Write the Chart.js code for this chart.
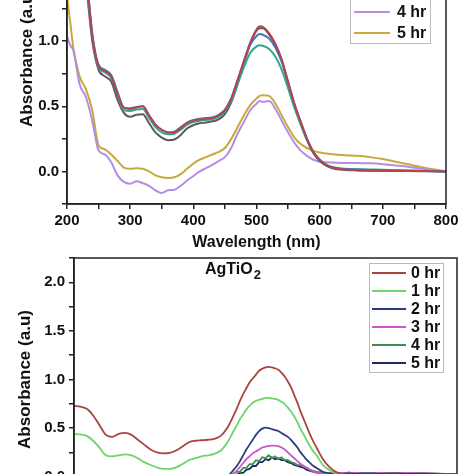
<!DOCTYPE html>
<html>
<head>
<meta charset="utf-8">
<script src="https://cdn.jsdelivr.net/npm/chart.js@4.4.1/dist/chart.umd.min.js"></script>
<style>
  html, body { margin: 0; padding: 0; background: #fff; width: 474px; height: 474px; overflow: hidden; }
  #wrap-top { position: absolute; left: 0; top: -101px; width: 474px; height: 355px; }
  #wrap-bot { position: absolute; left: 0; top: 245px; width: 474px; height: 306px; }
</style>
</head>
<body>
<div id="wrap-top"><canvas id="chart-top" width="474" height="355"></canvas></div>
<div id="wrap-bot"><canvas id="chart-bot" width="474" height="306"></canvas></div>
<script>
// ==========================================
// データ
// ==========================================

const SERIES_LABELS = ['0 hr', '1 hr', '2 hr', '3 hr', '4 hr', '5 hr'];

// 上のグラフ (波長 nm)
const TOP_WL = [
  200, 205, 210, 220, 230, 240, 250, 260, 270, 280,
  290, 300, 310, 320, 330, 340, 350, 360, 370, 380,
  390, 400, 410, 420, 430, 440, 450, 460, 470, 480,
  490, 500, 505, 510, 520, 530, 540, 550, 560, 570,
  580, 590, 600, 610, 620, 640, 660, 680, 700, 720,
  740, 760, 780, 800
];
const TOP_0HR = [
  2.6, 2.4, 2.2, 1.9, 1.55, 1.05, 0.81, 0.77, 0.73, 0.60,
  0.49, 0.48, 0.49, 0.50, 0.43, 0.36, 0.32, 0.30, 0.30, 0.33,
  0.37, 0.39, 0.40, 0.405, 0.41, 0.43, 0.47, 0.56, 0.70, 0.85,
  0.99, 1.09, 1.115, 1.11, 1.06, 0.98, 0.86, 0.69, 0.52, 0.38,
  0.25, 0.15, 0.09, 0.05, 0.03, 0.015, 0.01, 0.008, 0.006, 0.005,
  0.004, 0.003, 0.002, 0.0
];
const TOP_1HR = [
  2.6, 2.4, 2.2, 1.9, 1.55, 1.06, 0.82, 0.78, 0.74, 0.61,
  0.49, 0.485, 0.495, 0.50, 0.43, 0.36, 0.32, 0.30, 0.305, 0.34,
  0.375, 0.395, 0.405, 0.41, 0.415, 0.435, 0.475, 0.56, 0.70, 0.84,
  0.97, 1.04, 1.055, 1.05, 1.02, 0.95, 0.84, 0.68, 0.52, 0.38,
  0.25, 0.15, 0.09, 0.05, 0.03, 0.018, 0.014, 0.012, 0.01, 0.008,
  0.006, 0.004, 0.002, 0.0
];
const TOP_2HR = [
  2.5, 2.35, 2.15, 1.85, 1.5, 1.03, 0.80, 0.76, 0.72, 0.59,
  0.47, 0.465, 0.475, 0.48, 0.41, 0.34, 0.30, 0.285, 0.29, 0.32,
  0.36, 0.38, 0.39, 0.395, 0.40, 0.42, 0.46, 0.54, 0.67, 0.80,
  0.91, 0.96, 0.97, 0.965, 0.94, 0.88, 0.78, 0.64, 0.49, 0.36,
  0.24, 0.15, 0.09, 0.055, 0.035, 0.02, 0.017, 0.015, 0.013, 0.01,
  0.008, 0.005, 0.003, 0.0
];
const TOP_3HR = [
  2.5, 2.3, 2.1, 1.8, 1.45, 1.0, 0.78, 0.73, 0.69, 0.55,
  0.45, 0.42, 0.435, 0.44, 0.37, 0.30, 0.26, 0.24, 0.245, 0.28,
  0.33, 0.355, 0.37, 0.375, 0.385, 0.40, 0.44, 0.53, 0.67, 0.83,
  0.98, 1.08, 1.10, 1.10, 1.05, 0.97, 0.85, 0.68, 0.51, 0.37,
  0.24, 0.14, 0.08, 0.045, 0.025, 0.012, 0.008, 0.006, 0.005, 0.004,
  0.003, 0.002, 0.001, 0.0
];
const TOP_4HR = [
  1.04, 0.97, 0.93, 0.67, 0.57, 0.39, 0.16, 0.13, 0.07, -0.03,
  -0.08, -0.095, -0.075, -0.09, -0.11, -0.145, -0.165, -0.145, -0.14, -0.11,
  -0.07, -0.035, 0.0, 0.025, 0.05, 0.08, 0.11, 0.18, 0.29, 0.38,
  0.47, 0.52, 0.54, 0.535, 0.54, 0.48, 0.39, 0.30, 0.22, 0.16,
  0.12, 0.09, 0.075, 0.07, 0.068, 0.065, 0.064, 0.062, 0.056, 0.046,
  0.036, 0.022, 0.01, 0.0
];
const TOP_5HR = [
  1.35, 1.15, 0.95, 0.73, 0.63, 0.47, 0.20, 0.17, 0.13, 0.08,
  0.03, 0.02, 0.025, 0.02, 0.0, -0.03, -0.045, -0.05, -0.045, -0.02,
  0.02, 0.06, 0.09, 0.11, 0.13, 0.15, 0.18, 0.25, 0.34, 0.43,
  0.51, 0.56, 0.58, 0.585, 0.58, 0.52, 0.43, 0.34, 0.26, 0.21,
  0.18, 0.16, 0.145, 0.138, 0.132, 0.125, 0.12, 0.11, 0.095, 0.075,
  0.055, 0.035, 0.017, 0.0
];

// 下のグラフ AgTiO2
const BOT_WL = [
  200, 210, 220, 230, 240, 250, 260, 270, 280, 290,
  300, 310, 320, 330, 340, 350, 360, 370, 380, 390,
  400, 410, 420, 430, 440, 450, 455, 460, 465, 470,
  475, 480, 485, 490, 495, 500, 505, 510, 515, 520,
  525, 530, 535, 540, 545, 550, 555, 560, 565, 570,
  575, 580, 590, 600, 610, 620, 630, 640, 660, 680,
  700, 720, 740, 760, 780, 800
];
const BOT_0HR = [
  0.73, 0.72, 0.70, 0.63, 0.53, 0.43, 0.41, 0.44, 0.45, 0.43,
  0.38, 0.33, 0.28, 0.25, 0.24, 0.245, 0.27, 0.31, 0.355, 0.37,
  0.375, 0.38, 0.39, 0.42, 0.50, 0.63, 0.70, 0.78, 0.85, 0.91,
  0.97, 1.01, 1.05, 1.09, 1.11, 1.125, 1.13, 1.125, 1.115, 1.10,
  1.07, 1.03, 0.98, 0.92, 0.84, 0.76, 0.67, 0.59, 0.51, 0.43,
  0.36, 0.30, 0.18, 0.10, 0.05, 0.03, 0.015, 0.01, 0.0, 0.0,
  0.0, 0.0, 0.0, 0.0, 0.0, 0.0
];
const BOT_1HR = [
  0.44, 0.435, 0.42, 0.37, 0.30, 0.22, 0.21, 0.22, 0.23, 0.22,
  0.19, 0.15, 0.12, 0.095, 0.08, 0.08, 0.095, 0.13, 0.17, 0.19,
  0.21, 0.22, 0.235, 0.27, 0.35, 0.47, 0.53, 0.59, 0.64, 0.69,
  0.73, 0.76, 0.78, 0.79, 0.80, 0.81, 0.81, 0.805, 0.80, 0.79,
  0.77, 0.75, 0.71, 0.67, 0.62, 0.56, 0.49, 0.43, 0.37, 0.31,
  0.26, 0.22, 0.12, 0.07, 0.035, 0.015, 0.005, 0.0, 0.0, 0.0,
  0.0, 0.0, 0.0, 0.0, 0.0, 0.0
];
const BOT_2HR = [
  -0.12, -0.12, -0.13, -0.15, -0.18, -0.2, -0.2, -0.19, -0.19, -0.2,
  -0.21, -0.22, -0.23, -0.24, -0.24, -0.24, -0.23, -0.21, -0.19, -0.16,
  -0.13, -0.1, -0.07, -0.03, 0.0, 0.07, 0.11, 0.16, 0.22, 0.28,
  0.33, 0.38, 0.43, 0.47, 0.495, 0.505, 0.50, 0.49, 0.48, 0.47,
  0.45, 0.43, 0.41, 0.38, 0.34, 0.30, 0.25, 0.21, 0.17, 0.14,
  0.11, 0.09, 0.05, 0.035, 0.03, 0.03, 0.032, 0.03, 0.032, 0.03,
  0.031, 0.03, 0.03, 0.028, 0.027, 0.025
];
const BOT_3HR = [
  -0.2, -0.2, -0.21, -0.22, -0.23, -0.24, -0.24, -0.24, -0.24, -0.24,
  -0.24, -0.24, -0.24, -0.24, -0.24, -0.24, -0.24, -0.23, -0.22, -0.2,
  -0.17, -0.14, -0.1, -0.06, -0.02, 0.03, 0.06, 0.10, 0.14, 0.18,
  0.21, 0.24, 0.26, 0.28, 0.30, 0.31, 0.315, 0.32, 0.32, 0.315,
  0.30, 0.28, 0.25, 0.22, 0.19, 0.16, 0.13, 0.11, 0.09, 0.07,
  0.05, 0.04, 0.035, 0.04, 0.035, 0.04, 0.035, 0.04, 0.035, 0.04,
  0.035, 0.04, 0.035, 0.035, 0.03, 0.03
];
const BOT_4HR = [
  -0.22, -0.22, -0.23, -0.23, -0.24, -0.24, -0.24, -0.24, -0.24, -0.24,
  -0.24, -0.24, -0.24, -0.24, -0.24, -0.24, -0.24, -0.23, -0.21, -0.19,
  -0.16, -0.13, -0.1, -0.06, -0.01, 0.03, 0.05, 0.05, 0.09, 0.09,
  0.13, 0.13, 0.17, 0.16, 0.20, 0.19, 0.22, 0.19, 0.21, 0.18,
  0.20, 0.17, 0.17, 0.15, 0.14, 0.12, 0.12, 0.10, 0.09, 0.07,
  0.06, 0.05, 0.04, 0.035, 0.045, 0.03, 0.045, 0.035, 0.04, 0.035,
  0.04, 0.035, 0.04, 0.035, 0.03, 0.03
];
const BOT_5HR = [
  -0.22, -0.22, -0.23, -0.23, -0.24, -0.24, -0.24, -0.24, -0.24, -0.24,
  -0.24, -0.24, -0.24, -0.24, -0.24, -0.24, -0.24, -0.23, -0.21, -0.19,
  -0.16, -0.13, -0.1, -0.07, -0.02, 0.0, 0.02, 0.04, 0.04, 0.07,
  0.08, 0.11, 0.11, 0.15, 0.15, 0.18, 0.17, 0.20, 0.18, 0.19,
  0.17, 0.17, 0.15, 0.14, 0.12, 0.11, 0.10, 0.09, 0.07, 0.06,
  0.05, 0.045, 0.04, 0.03, 0.04, 0.03, 0.04, 0.03, 0.04, 0.03,
  0.035, 0.03, 0.035, 0.03, 0.03, 0.025
];

const TOP_COLORS = ['#b8434f', '#3d78c0', '#35a68c', '#5a5a5a', '#b38ee0', '#c8aa3c'];
const BOT_COLORS = ['#a8463e', '#6ed46e', '#2b3d80', '#cc55cc', '#3f8f4f', '#1f2a60'];

// ==========================================
// 共通設定
// ==========================================

Chart.defaults.font.family = "'Liberation Sans', Arial, sans-serif";
Chart.defaults.font.weight = 'bold';
Chart.defaults.color = '#111';

const AXIS_COLOR = '#222';

function toPoints(wl, vals) {
  return wl.map((w, i) => ({ x: w, y: vals[i] }));
}

function halfStepLabel(v) {
  const r = Math.round(v * 100) / 100;
  return Math.abs(r * 2 - Math.round(r * 2)) < 1e-6 ? r.toFixed(1) : '';
}

function buildScales(yMax, yWidth, yTitlePad, yTickPad) {
  return {
    x: {
      type: 'linear',
      min: 200,
      max: 800,
      ticks: {
        stepSize: 50,
        autoSkip: false,
        maxRotation: 0,
        padding: 3,
        font: { size: 15, weight: 'bold' },
        callback: v => (v % 100 === 0 ? String(v) : '')
      },
      grid: { drawOnChartArea: false, drawTicks: true, tickLength: 5, color: AXIS_COLOR, lineWidth: 1.5 },
      border: { color: AXIS_COLOR, width: 1.5 },
      title: { display: true, text: 'Wavelength (nm)', font: { size: 16, weight: 'bold' }, padding: { top: 0, bottom: 2 } },
      afterFit: s => { s.height = 50; }
    },
    y: {
      min: -0.25,
      max: yMax,
      ticks: {
        stepSize: 0.25,
        autoSkip: false,
        padding: yTickPad,
        font: { size: 15, weight: 'bold' },
        callback: v => halfStepLabel(v)
      },
      grid: { drawOnChartArea: false, drawTicks: true, tickLength: 5, color: AXIS_COLOR, lineWidth: 1.5 },
      border: { color: AXIS_COLOR, width: 1.5 },
      title: { display: true, text: 'Absorbance (a.u)', font: { size: 17, weight: 'bold' }, padding: { top: yTitlePad, bottom: 0 } },
      afterFit: s => { s.width = yWidth; }
    }
  };
}

// 枠線・凡例・タイトル
const framePlugin = {
  id: 'frameBox',
  afterDraw(chart, args, opts) {
    const { ctx, chartArea: a } = chart;
    ctx.save();
    ctx.strokeStyle = AXIS_COLOR;
    ctx.lineWidth = 1.5;
    ctx.strokeRect(a.left, a.top, a.right - a.left, a.bottom - a.top);

    if (opts.legend) {
      const L = opts.legend;
      ctx.strokeStyle = '#bbb';
      ctx.lineWidth = 1;
      ctx.fillStyle = '#fff';
      ctx.fillRect(L.left, L.top, L.width, L.height);
      ctx.strokeRect(L.left + 0.5, L.top + 0.5, L.width, L.height);
      ctx.font = 'bold ' + L.fontSize + "px 'Liberation Sans', Arial, sans-serif";
      ctx.textBaseline = 'middle';
      ctx.textAlign = 'left';
      chart.data.datasets.forEach((ds, i) => {
        const y = L.firstRow + i * L.rowHeight;
        ctx.strokeStyle = ds.borderColor;
        ctx.lineWidth = 2;
        ctx.beginPath();
        ctx.moveTo(L.lineStart, y);
        ctx.lineTo(L.lineEnd, y);
        ctx.stroke();
        ctx.fillStyle = '#111';
        ctx.fillText(ds.label, L.textX, y + 1);
      });
    }

    if (opts.title) {
      const T = opts.title;
      ctx.fillStyle = '#111';
      ctx.textBaseline = 'middle';
      ctx.textAlign = 'left';
      ctx.font = "bold 16px 'Liberation Sans', Arial, sans-serif";
      ctx.fillText(T.text, T.x, T.y);
      const w = ctx.measureText(T.text).width;
      ctx.font = "bold 13px 'Liberation Sans', Arial, sans-serif";
      ctx.fillText(T.sub, T.x + w + 1, T.y + 5);
    }
    ctx.restore();
  }
};

function makeDatasets(wl, seriesList, colors, width, jaggedFrom) {
  return seriesList.map((vals, i) => {
    const jagged = jaggedFrom !== null && i >= jaggedFrom;
    return {
      label: SERIES_LABELS[i],
      data: toPoints(wl, vals),
      borderColor: colors[i],
      borderWidth: width,
      pointRadius: 0,
      fill: false,
      tension: jagged ? 0 : 0.4,
      cubicInterpolationMode: jagged ? 'default' : 'monotone'
    };
  });
}

// ==========================================
// 上のグラフ
// ==========================================

new Chart(document.getElementById('chart-top'), {
  type: 'line',
  data: {
    datasets: makeDatasets(TOP_WL, [TOP_0HR, TOP_1HR, TOP_2HR, TOP_3HR, TOP_4HR, TOP_5HR], TOP_COLORS, 2, null)
  },
  options: {
    responsive: false,
    animation: false,
    devicePixelRatio: 1,
    layout: { padding: { top: 10, right: 28, left: 0, bottom: 0 } },
    scales: buildScales(2.0, 67, 17, 3),
    plugins: {
      legend: { display: false },
      tooltip: { enabled: false },
      frameBox: {
        legend: { left: 350, top: 17, width: 80, height: 127, firstRow: 29, rowHeight: 21, lineStart: 354, lineEnd: 390, textX: 397, fontSize: 16 }
      }
    }
  },
  plugins: [framePlugin]
});

// ==========================================
// 下のグラフ AgTiO2
// ==========================================

new Chart(document.getElementById('chart-bot'), {
  type: 'line',
  data: {
    datasets: makeDatasets(BOT_WL, [BOT_0HR, BOT_1HR, BOT_2HR, BOT_3HR, BOT_4HR, BOT_5HR], BOT_COLORS, 1.8, 4)
  },
  options: {
    responsive: false,
    animation: false,
    devicePixelRatio: 1,
    layout: { padding: { top: 10, right: 17, left: 0, bottom: 0 } },
    scales: buildScales(2.25, 74, 15, 4),
    plugins: {
      legend: { display: false },
      tooltip: { enabled: false },
      frameBox: {
        legend: { left: 369, top: 18, width: 74, height: 109, firstRow: 28, rowHeight: 18, lineStart: 372, lineEnd: 406, textX: 411, fontSize: 16 },
        title: { text: 'AgTiO', sub: '2', x: 205, y: 25 }
      }
    }
  },
  plugins: [framePlugin]
});
</script>
</body>
</html>
